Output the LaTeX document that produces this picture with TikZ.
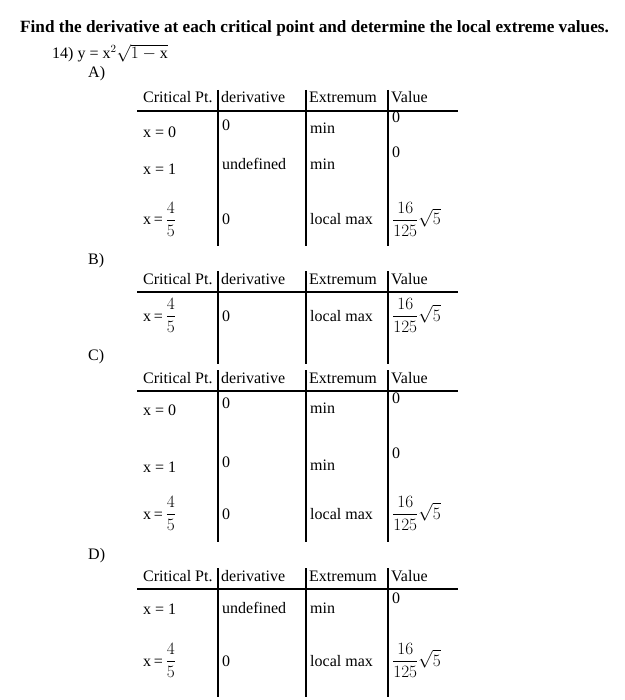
\documentclass[tikz,border=0pt]{standalone}
\usepackage{fontspec}
\setmainfont{Liberation Serif}
\begin{document}
\begin{tikzpicture}[x=1pt,y=-1pt,
  t/.style={anchor=base west,inner sep=0pt,font=\fontsize{16}{18}\selectfont},
  rule/.style={line width=1.8pt},
  vl/.style={line width=1.3pt}]
\useasboundingbox (0,0) rectangle (624,700);
\node[anchor=base west,inner sep=0pt,font=\bfseries\fontsize{17.2}{19}\selectfont] (title) at (20,33) {Find the derivative at each critical point and determine the local extreme values.};
\node[t] (q) at (52,59) {14) y = x$^{2}\sqrt{1-\mbox{x}}$};
\newcommand\hdrrow[3]{%
  \node[t] (#1h1) at (143,#2) {Critical Pt.};
  \node[t] (#1h2) at (221,#2) {derivative};
  \node[t] (#1h3) at (309,#2) {Extremum};
  \node[t] (#1h4) at (391,#2) {Value};
  \draw[rule] (137,#2+8) -- (458,#2+8);
  \draw[vl] (218,#2-13) -- (218,#3);
  \draw[vl] (306,#2-13) -- (306,#3);
  \draw[vl] (388,#2-13) -- (388,#3);}
\newcommand\frrow[2]{%
  \node[t] (#1a) at (143,#2+5) {x\,=\,$\displaystyle\frac{4}{5}$};
  \node[t] (#1b) at (222,#2+5) {0};
  \node[t] (#1c) at (310,#2+5) {local max};
  \node[t] (#1d) at (392,#2+5) {$\displaystyle\frac{16}{125}\sqrt{5}$};}
% A
\node[t] (A) at (88,78) {A)};
\hdrrow{A}{103}{246}
\node[t] (Aa1) at (143,138) {x = 0};
\node[t] (Ab1) at (222,131) {0};
\node[t] (Ac1) at (310,134) {min};
\node[t] (Ad1) at (392,123) {0};
\node[t] (Aa2) at (143,175) {x = 1};
\node[t] (Ab2) at (222,170) {undefined};
\node[t] (Ac2) at (310,170) {min};
\node[t] (Ad2) at (392,158) {0};
\frrow{A3}{220}
% B
\node[t] (B) at (88,264) {B)};
\hdrrow{B}{284}{364}
\frrow{B1}{316}
% C
\node[t] (C) at (88,360) {C)};
\hdrrow{C}{383}{542}
\node[t] (Ca1) at (143,415) {x = 0};
\node[t] (Cb1) at (222,408) {0};
\node[t] (Cc1) at (310,413) {min};
\node[t] (Cd1) at (392,403) {0};
\node[t] (Ca2) at (143,472) {x = 1};
\node[t] (Cb2) at (222,467) {0};
\node[t] (Cc2) at (310,470) {min};
\node[t] (Cd2) at (392,458) {0};
\frrow{C3}{514}
% D
\node[t] (D) at (88,559) {D)};
\hdrrow{D}{581}{697}
\node[t] (Da1) at (143,614) {x = 1};
\node[t] (Db1) at (222,613) {undefined};
\node[t] (Dc1) at (310,613) {min};
\node[t] (Dd1) at (392,603) {0};
\frrow{D2}{661}
\end{tikzpicture}
\end{document}
